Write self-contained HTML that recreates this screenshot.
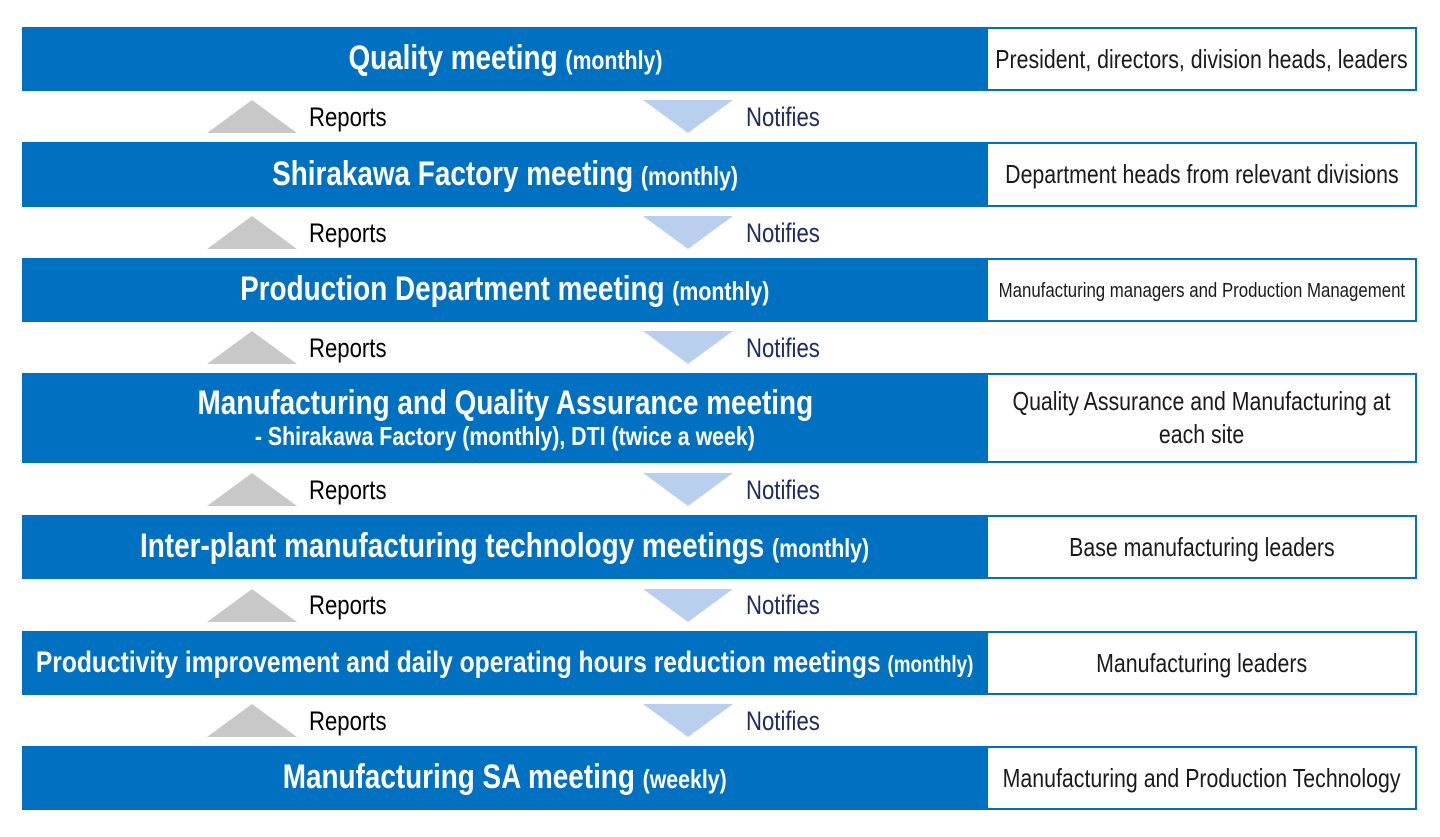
<!DOCTYPE html>
<html><head><style>
body{margin:0;width:1440px;height:837px;background:#fff;position:relative;overflow:hidden;font-family:"Liberation Sans",sans-serif;}
.bar{position:absolute;left:22px;width:1395px;background:#0070c0;}
.lt{position:absolute;left:0;width:966px;top:0;bottom:0;display:flex;flex-direction:column;justify-content:center;align-items:center;color:#fff;font-weight:bold;font-size:34px;text-align:center;line-height:36px;}
.lt small{font-size:26px;}
.s{display:inline-block;white-space:nowrap;transform:scaleX(.82);transform-origin:center;}
.rt{position:absolute;left:966px;right:2px;top:2px;bottom:2px;background:#fff;display:flex;align-items:center;justify-content:center;text-align:center;color:#1a1a1a;font-size:26px;line-height:33px;}
.up,.dn{position:absolute;width:0;height:0;border-left:45px solid transparent;border-right:45px solid transparent;}
.up{left:207px;border-bottom:33px solid #c8c8c8;}
.dn{left:643px;border-top:33px solid #b8d0ee;}
.lab{position:absolute;font-size:27px;line-height:30px;white-space:nowrap;transform:scaleX(.82);transform-origin:left;}
</style></head><body>
<div class="bar" style="top:27px;height:64px"><div class="lt"><span class="s">Quality meeting <small>(monthly)</small></span></div><div class="rt"><span class="s">President, directors, division heads, leaders</span></div></div>
<div class="bar" style="top:142px;height:65px"><div class="lt"><span class="s">Shirakawa Factory meeting <small>(monthly)</small></span></div><div class="rt"><span class="s">Department heads from relevant divisions</span></div></div>
<div class="bar" style="top:258px;height:64px"><div class="lt"><span class="s">Production Department meeting <small>(monthly)</small></span></div><div class="rt" style="font-size:20.5px"><span class="s">Manufacturing managers and Production Management</span></div></div>
<div class="bar" style="top:373px;height:90px"><div class="lt"><span class="s">Manufacturing and Quality Assurance meeting</span><span class="s" style="font-size:26px;line-height:30px">- Shirakawa Factory (monthly), DTI (twice a week)</span></div><div class="rt"><span class="s">Quality Assurance and Manufacturing at<br>each site</span></div></div>
<div class="bar" style="top:515px;height:64px"><div class="lt"><span class="s">Inter-plant manufacturing technology meetings <small>(monthly)</small></span></div><div class="rt"><span class="s">Base manufacturing leaders</span></div></div>
<div class="bar" style="top:631px;height:64px"><div class="lt" style="font-size:30px"><span class="s">Productivity improvement and daily operating hours reduction meetings <small style="font-size:23px">(monthly)</small></span></div><div class="rt"><span class="s">Manufacturing leaders</span></div></div>
<div class="bar" style="top:746px;height:64px"><div class="lt"><span class="s">Manufacturing SA meeting <small>(weekly)</small></span></div><div class="rt"><span class="s">Manufacturing and Production Technology</span></div></div>

<div class="up" style="top:100px"></div><div class="dn" style="top:100px"></div><div class="lab" style="left:309px;top:102px">Reports</div><div class="lab" style="left:746px;top:102px;color:#1f2a60">Notifies</div>
<div class="up" style="top:216px"></div><div class="dn" style="top:216px"></div><div class="lab" style="left:309px;top:218px">Reports</div><div class="lab" style="left:746px;top:218px;color:#1f2a60">Notifies</div>
<div class="up" style="top:331px"></div><div class="dn" style="top:331px"></div><div class="lab" style="left:309px;top:333px">Reports</div><div class="lab" style="left:746px;top:333px;color:#1f2a60">Notifies</div>
<div class="up" style="top:473px"></div><div class="dn" style="top:473px"></div><div class="lab" style="left:309px;top:475px">Reports</div><div class="lab" style="left:746px;top:475px;color:#1f2a60">Notifies</div>
<div class="up" style="top:589px"></div><div class="dn" style="top:589px"></div><div class="lab" style="left:309px;top:590px">Reports</div><div class="lab" style="left:746px;top:590px;color:#1f2a60">Notifies</div>
<div class="up" style="top:704px"></div><div class="dn" style="top:704px"></div><div class="lab" style="left:309px;top:706px">Reports</div><div class="lab" style="left:746px;top:706px;color:#1f2a60">Notifies</div>
</body></html>
